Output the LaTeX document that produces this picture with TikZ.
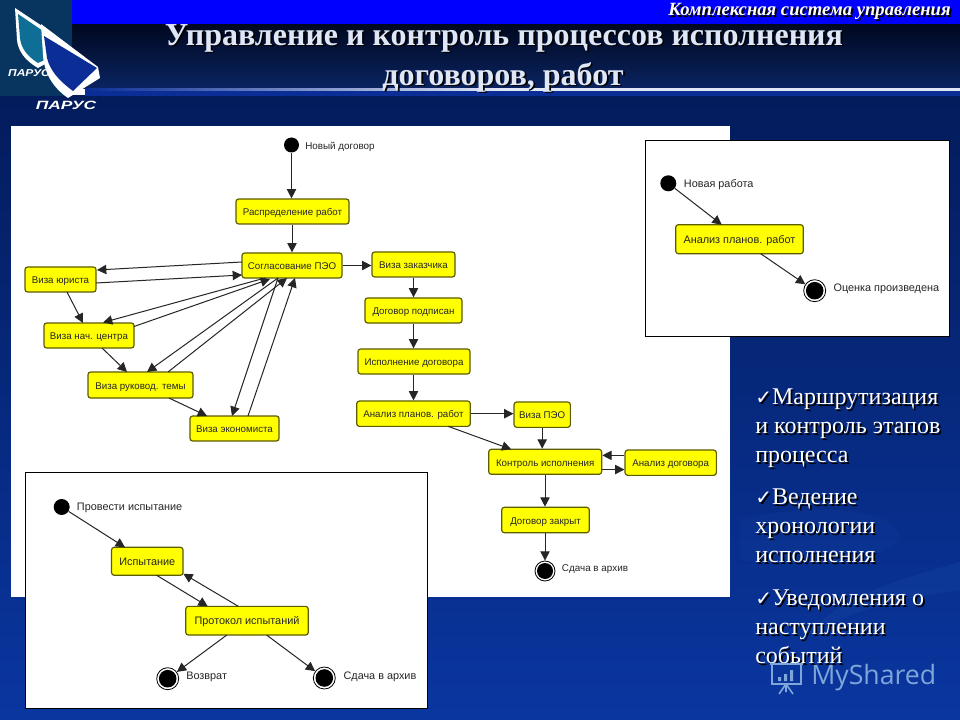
\documentclass[tikz,border=0pt]{standalone}
\usepackage{fontspec}
\usepackage{graphicx}
\setmainfont{Liberation Serif}
\setsansfont{Liberation Sans}
\newfontfamily\chkfont{DejaVu Sans}
\newfontfamily\wmfont{Open Sans}
\usetikzlibrary{arrows.meta}
\definecolor{stateyellow}{HTML}{FFFF00}
\definecolor{stateedge}{HTML}{5C5C00}
\definecolor{inktext}{HTML}{262626}
\definecolor{titletext}{HTML}{DFE6F6}
\definecolor{wmblue}{HTML}{7EA6DA}
\definecolor{bgtop}{HTML}{00081F}
\definecolor{bgmid}{HTML}{0A2462}
\definecolor{bglow}{HTML}{031C5C}
\definecolor{bgbot}{HTML}{0A36A0}
\definecolor{logoteal}{HTML}{07355F}
\definecolor{sailteal}{HTML}{0E6E96}
\definecolor{sailblue}{HTML}{0A2E96}
\definecolor{swoosh}{HTML}{12419F}
\newcommand{\shtxt}[1]{\leavevmode\rlap{\kern1.3pt\raisebox{-1.3pt}{\color{black}#1}}#1}
\newcommand{\chk}{{\chkfont\fontsize{15}{15}\selectfont ✓}}
\tikzset{
  x=0.75pt,y=-0.75pt,
  statebox/.style n args={2}{draw=stateedge,fill=stateyellow,line width=0.9pt,rounded corners=2pt,
     minimum width=#1*0.75pt,minimum height=#2*0.75pt,inner sep=0pt,text=inktext,text height=7.5pt,text depth=1.1pt,
     font=\sffamily\fontsize{7.3}{8}\selectfont},
  bigtext/.style={font=\sffamily\fontsize{8.15}{9}\selectfont},
  lbl/.style={anchor=west,inner sep=0pt,text=inktext,text height=7.5pt,text depth=1.1pt,font=\sffamily\fontsize{7.4}{8}\selectfont},
  biglbl/.style={lbl,font=\sffamily\fontsize{8.15}{9}\selectfont},
  arr/.style={draw=black!85,line width=0.75pt,-{Triangle[length=7pt,width=7pt]}},
  startdot/.style={circle,fill=black,inner sep=0pt,minimum size=#1*0.75pt},
  enddot/.style={circle,draw=black,line width=0.6pt,fill=white,inner sep=0pt,minimum size=#1*0.75pt,
     path picture={\fill[black] (path picture bounding box.center) circle (#1*0.3pt);}},
  panel/.style={draw=black,line width=0.75pt,fill=white},
  bodytxt/.style={anchor=north west,inner sep=0pt,align=left,text=white,font=\fontsize{18}{21.75}\selectfont},
}
\begin{document}
\begin{tikzpicture}
\useasboundingbox (0,0) rectangle (960,720);
% background
\shade[top color=bglow,bottom color=bgbot] (0,96) rectangle (960,720);
\shade[top color=bgtop,bottom color=bgmid] (0,24) rectangle (960,89);
\fill[blue] (72,0) rectangle (960,24);
\fill[logoteal] (0,0) rectangle (72,96);
\shade[left color=sailblue,right color=titletext] (85,88.5) rectangle (500,91);
\fill[titletext] (500,88.5) rectangle (960,91);
\fill[sailblue] (85,91) rectangle (960,96);
% faint swooshes
\fill[swoosh,opacity=.45] (960,562) .. controls (900,580) and (850,590) .. (800,640) .. controls (850,610) and (900,598) .. (960,590) -- cycle;
\fill[swoosh,opacity=.2] (740,520) .. controls (820,500) and (900,510) .. (900,540) .. controls (880,560) and (820,570) .. (740,560) -- cycle;
% logo
\fill[white] (15,8) -- (48,30) -- (52,60) -- (38,68) .. controls (24,60) and (18,50) .. (17,40) -- cycle;
\fill[sailteal] (18,14) -- (46,33) -- (49,58) -- (38,63) .. controls (27,56) and (21,48) .. (20,38) -- cycle;
\node[inner sep=0pt,text=white,font=\sffamily\bfseries\itshape\fontsize{7.5}{8}\selectfont] (logoa) at (29,73) {\scalebox{1.2}[1]{ПАРУС}};
\fill[white] (41,24) -- (98,67) -- (100,78) -- (68,98) .. controls (52,87) and (44,72) .. (43,55) -- cycle;
\fill[sailblue] (44,36) -- (97,68) -- (73,91) .. controls (58,80) and (50,70) .. (47,58) -- cycle;
\node[inner sep=0pt,text=white,font=\sffamily\bfseries\itshape\fontsize{9}{9}\selectfont] (logob) at (66,105) {\scalebox{1.45}[1]{ПАРУС}};
% header text
\node[anchor=east,inner sep=0pt,text=white,font=\bfseries\itshape\fontsize{14}{14}\selectfont] (hdr) at (951,12.5) {\shtxt{Комплексная система управления}};
\node[inner sep=0pt,text=titletext,font=\bfseries\fontsize{24}{25}\selectfont] (ttla) at (504,39) {\shtxt{Управление и контроль процессов исполнения}};
\node[inner sep=0pt,text=titletext,font=\bfseries\fontsize{24}{25}\selectfont] (ttlb) at (503,78) {\shtxt{договоров, работ}};
% main panel
\fill[white] (11,126) rectangle (730,597);
\node[startdot=15] (s0) at (291.5,145) {};
\node[lbl] (s0l) at (305,145) {Новый договор};
\node[statebox={113}{25}] (rasp) at (292.5,211.5) {Распределение работ};
\node[statebox={100}{25}] (sogl) at (292,265.5) {Согласование ПЭО};
\node[statebox={71}{25}] (yur) at (60.5,279.5) {Виза юриста};
\node[statebox={90}{25}] (nach) at (89,335.5) {Виза нач. центра};
\node[statebox={105}{26}] (ruk) at (140.5,385) {Виза руковод. темы};
\node[statebox={89}{25}] (eko) at (234.5,428.5) {Виза экономиста};
\node[statebox={83}{25}] (zak) at (413.5,264.5) {Виза заказчика};
\node[statebox={97}{25}] (podp) at (413.5,310.5) {Договор подписан};
\node[statebox={112}{25}] (isp) at (414,361.5) {Исполнение договора};
\node[statebox={113.6}{25.3}] (anpl) at (413.5,413.7) {Анализ планов. работ};
\node[statebox={56.3}{25.3}] (vpeo) at (542.2,414.7) {Виза ПЭО};
\node[statebox={113}{25}] (ktr) at (545.2,461.8) {Контроль исполнения};
\node[statebox={91.3}{25.3}] (andg) at (670.7,462.7) {Анализ договора};
\node[statebox={87.6}{25.4}] (zakr) at (545.5,520) {Договор закрыт};
\node[enddot=20] (e0) at (545,571) {};
\node[lbl] (e0l) at (561.7,567.7) {Сдача в архив};
\draw[arr] (s0) -- (s0 |- rasp.north);
\draw[arr] (sogl |- rasp.south) -- (sogl.north);
\draw[arr] ([shift={(-50,-3.5)}]sogl.center) -- ([shift={(36.5,-9.5)}]yur.center);
\draw[arr] ([shift={(35.5,3.5)}]yur.center) -- ([shift={(-50,9.5)}]sogl.center);
\draw[arr] ([shift={(-27,12.5)}]sogl.center) -- ([shift={(14,-13)}]nach.center);
\draw[arr] ([shift={(45,-9)}]nach.center) -- ([shift={(-22,13.5)}]sogl.center);
\draw[arr] ([shift={(-14,12.5)}]sogl.center) -- ([shift={(6.5,-13)}]ruk.center);
\draw[arr] ([shift={(27.5,-13)}]ruk.center) -- ([shift={(-5,12.5)}]sogl.center);
\draw[arr] ([shift={(-14,12.5)}]sogl.center) -- ([shift={(-2.5,-12.5)}]eko.center);
\draw[arr] ([shift={(13.5,-12.5)}]eko.center) -- ([shift={(3,12.5)}]sogl.center);
\draw[arr] ([shift={(6.5,12.5)}]yur.center) -- ([shift={(-6,-12.5)}]nach.center);
\draw[arr] ([shift={(13,12.5)}]nach.center) -- ([shift={(-13.5,-13)}]ruk.center);
\draw[arr] ([shift={(28.5,13)}]ruk.center) -- ([shift={(-27.5,-12.5)}]eko.center);
\draw[arr] (sogl.east) -- (zak.west |- sogl.east);
\draw[arr] (zak) -- (podp);
\draw[arr] (podp) -- (podp |- isp.north);
\draw[arr] (podp |- isp.south) -- (podp |- anpl.north);
\draw[arr] (anpl.east) -- (vpeo.west |- anpl.east);
\draw[arr] ([shift={(34.5,12.6)}]anpl.center) -- ([shift={(-34,-12.5)}]ktr.center);
\draw[arr] (vpeo.south) -- (vpeo.south |- ktr.north);
\draw[arr] ([yshift=5.5pt]andg.west) -- ([yshift=5.5pt]andg.west -| ktr.east);
\draw[arr] ([yshift=-5.8pt]ktr.east) -- ([yshift=-5.8pt]ktr.east -| andg.west);
\draw[arr] (e0 |- ktr.south) -- (e0 |- zakr.north);
\draw[arr] (e0 |- zakr.south) -- (e0);
% right panel
\draw[panel] (645.3,140.7) rectangle (949.5,336);
\node[startdot=16] (s1) at (668.3,183.3) {};
\node[biglbl] (s1l) at (683.7,183) {Новая работа};
\node[statebox={127.6}{29},bigtext] (anp2) at (739.5,239.2) {Анализ планов. работ};
\node[enddot=22] (e1) at (814.7,290.7) {};
\node[biglbl] (e1l) at (833.3,287) {Оценка произведена};
\draw[arr] (s1) -- ([shift={(-17.8,-14.5)}]anp2.center);
\draw[arr] ([shift={(21.2,14.5)}]anp2.center) -- (e1);
% bottom panel
\draw[panel] (25,472.5) rectangle (427.5,708);
\node[startdot=16] (s2) at (61.7,507) {};
\node[biglbl] (s2l) at (76.7,506.3) {Провести испытание};
\node[statebox={71.5}{28},bigtext] (test) at (147.3,561.3) {Испытание};
\node[statebox={122.5}{28.7},bigtext] (prot) at (247,620.7) {Протокол испытаний};
\node[enddot=22] (e2) at (167.7,678.7) {};
\node[biglbl] (e2l) at (186,675.3) {Возврат};
\node[enddot=22] (e3) at (324.3,678) {};
\node[biglbl] (e3l) at (343.3,675) {Сдача в архив};
\draw[arr] (s2) -- ([shift={(-22.3,-14)}]test.center);
\draw[arr] ([shift={(9.4,14)}]test.center) -- ([shift={(-39.3,-14.4)}]prot.center);
\draw[arr] ([shift={(-8.7,-14.4)}]prot.center) -- ([shift={(36,12.4)}]test.center);
\draw[arr] ([shift={(-20.3,14.4)}]prot.center) -- (e2);
\draw[arr] ([shift={(19.7,14.4)}]prot.center) -- (e3);
% body text
\node[bodytxt] (b1) at (755,389) {\shtxt{\chk Маршрутизация}\\ \shtxt{и контроль этапов}\\ \shtxt{процесса}};
\node[bodytxt] (b2) at (755,489) {\shtxt{\chk Ведение}\\ \shtxt{хронологии}\\ \shtxt{исполнения}};
\node[bodytxt] (b3) at (755,590) {\shtxt{\chk Уведомления о}\\ \shtxt{наступлении}\\ \shtxt{событий}};
% watermark
\node[anchor=west,inner sep=0pt,text=wmblue,font=\wmfont\fontsize{20}{20}\selectfont] (wm) at (811,677.5) {MyShared};
\draw[wmblue,line width=1.2pt] (772,664) rectangle (801,684);
\draw[wmblue,line width=1.2pt] (770,664) -- (803,664) (786,684) -- (786,692) (786,684) -- (779,694) (786,684) -- (793,694);
\fill[wmblue] (778,677) rectangle (781,681) (784,674) rectangle (787,681) (790,670) rectangle (793,681);
\end{tikzpicture}
\end{document}
